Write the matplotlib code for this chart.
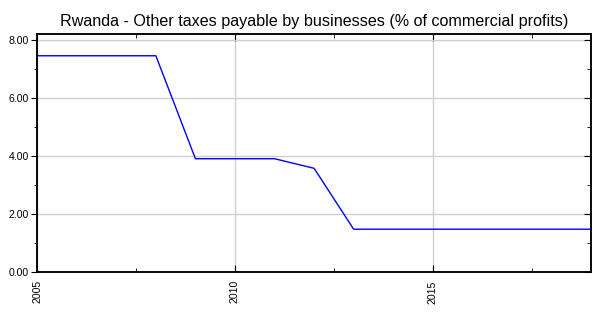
import matplotlib
matplotlib.use("Agg")
import matplotlib.pyplot as plt
from matplotlib.ticker import MultipleLocator, FormatStrFormatter

plt.rcParams['font.family'] = ['Liberation Sans', 'DejaVu Sans']

# data
years = [2005, 2006, 2007, 2008, 2009, 2010, 2011, 2012, 2013, 2014, 2015, 2016, 2017, 2018, 2019]
values = [7.45, 7.45, 7.45, 7.45, 3.9, 3.9, 3.9, 3.57, 1.47, 1.47, 1.47, 1.47, 1.47, 1.47, 1.47]
title = "Rwanda - Other taxes payable by businesses (% of commercial profits)"

fig = plt.figure(figsize=(6, 3.15), dpi=100)
ax = fig.add_axes([0.062, 0.137, 0.923, 0.755])

ax.plot(years, values, color='#0000ff', lw=1)

ax.set_xlim(2005, 2019)
ax.set_ylim(0, 8.2)
ax.xaxis.set_major_locator(MultipleLocator(5))
ax.xaxis.set_minor_locator(MultipleLocator(2.5))
ax.yaxis.set_major_locator(MultipleLocator(2))
ax.yaxis.set_minor_locator(MultipleLocator(1))
ax.yaxis.set_major_formatter(FormatStrFormatter('%.2f'))
ax.xaxis.set_major_formatter(FormatStrFormatter('%d'))

ax.grid(True, which='major', color='#d0d0d0', lw=1)
ax.set_axisbelow(True)

ax.tick_params(axis='x', which='both', direction='in', top=True, labelsize=7.6, rotation=90, pad=6)
ax.tick_params(axis='x', which='major', length=5)
ax.tick_params(axis='x', which='minor', length=3)
ax.tick_params(axis='y', which='both', direction='out', labelsize=7.6, pad=2)
ax.tick_params(axis='y', which='major', length=4)
ax.tick_params(axis='y', which='minor', length=2)

# right side ticks point inward
ax2 = ax.twinx()
ax2.set_ylim(ax.get_ylim())
ax2.yaxis.set_major_locator(MultipleLocator(2))
ax2.yaxis.set_minor_locator(MultipleLocator(1))
ax2.tick_params(axis='y', which='both', direction='in', labelright=False)
ax2.tick_params(axis='y', which='major', length=5)
ax2.tick_params(axis='y', which='minor', length=3)

for a in (ax, ax2):
    for s in a.spines.values():
        s.set_color('black')
        s.set_linewidth(1.1)

ax.set_title(title, fontsize=11.6, pad=6)

fig.savefig("out.png", dpi=100)
